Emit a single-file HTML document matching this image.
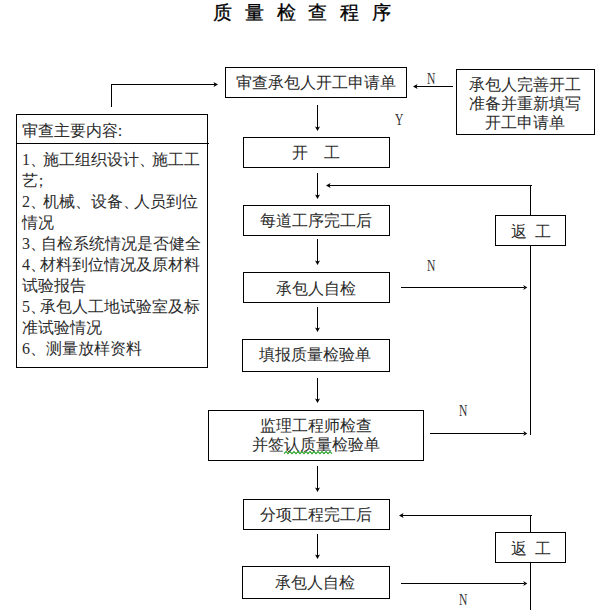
<!DOCTYPE html>
<html><head><meta charset="utf-8">
<style>
html,body{margin:0;padding:0;background:#fff;}
body{width:607px;height:610px;position:relative;overflow:hidden;font-family:"Liberation Sans",sans-serif;color:#000;}
.b{position:absolute;box-sizing:border-box;border:1px solid #000;background:#fff;}
.t{position:absolute;white-space:nowrap;font-size:16px;line-height:18px;color:#2b2b2b;}
.c{text-align:center;}
.n{position:absolute;font-family:"Liberation Serif",serif;font-size:16.5px;line-height:16px;transform:scaleX(0.7);transform-origin:0 0;color:#333;}
.r{position:absolute;left:22px;white-space:nowrap;font-size:16px;line-height:21px;color:#2b2b2b;}
.r i{display:inline-block;font-style:normal;}
.r .d{font-family:"Liberation Serif",serif;width:8px;}
svg{position:absolute;left:0;top:0;}
</style></head><body>
<svg width="607" height="610" viewBox="0 0 607 610">
<g stroke="#000" stroke-width="1" shape-rendering="crispEdges" fill="none">
<!-- C to A -->
<path d="M111.5 107 V84.5 H215"/>
<!-- B to A -->
<path d="M416 86.5 H453"/>
<!-- center verticals -->
<path d="M317.5 105 V128"/>
<path d="M317.5 173 V196"/>
<path d="M317.5 239 V262"/>
<path d="M317.5 307 V329"/>
<path d="M317.5 378 V400"/>
<path d="M317.5 466 V489"/>
<path d="M317.5 534 V556"/>
<!-- right loop 1 -->
<path d="M530.5 435 V186"/><path d="M532 185.5 H329"/>
<path d="M401 287.5 H524"/>
<path d="M430 433.5 H524"/>
<!-- right loop 2 -->
<path d="M530.5 610 V516"/><path d="M532 515.5 H402"/>
<path d="M401 583.5 H524"/>
</g>
<g fill="#000">
<path d="M218 84.5 L213.5 82 L214.5 84.5 L213.5 87 Z"/>
<path d="M413 86.5 L417.5 84 L416.5 86.5 L417.5 89 Z"/>
<path d="M317.5 131 L315 126.5 L317.5 127.5 L320 126.5 Z"/>
<path d="M317.5 199 L315 194.5 L317.5 195.5 L320 194.5 Z"/>
<path d="M317.5 265 L315 260.5 L317.5 261.5 L320 260.5 Z"/>
<path d="M317.5 332 L315 327.5 L317.5 328.5 L320 327.5 Z"/>
<path d="M317.5 403 L315 398.5 L317.5 399.5 L320 398.5 Z"/>
<path d="M317.5 492 L315 487.5 L317.5 488.5 L320 487.5 Z"/>
<path d="M317.5 559 L315 554.5 L317.5 555.5 L320 554.5 Z"/>
<path d="M326 185.5 L330.5 183 L329.5 185.5 L330.5 188 Z"/>
<path d="M399 515.5 L403.5 513 L402.5 515.5 L403.5 518 Z"/>
<path d="M527.3 287.5 L523.3 285 L524.3 287.5 L523.3 290 Z"/>
<path d="M527.3 433.5 L523.3 431 L524.3 433.5 L523.3 436 Z"/>
<path d="M527.3 583.5 L523.3 581 L524.3 583.5 L523.3 586 Z"/>
</g>
</svg>

<!-- title -->
<div class="t" style="left:213px;top:1.5px;font-family:'Liberation Serif',serif;font-size:19px;line-height:22px;letter-spacing:12.8px;-webkit-text-stroke:0.3px #000;color:#000;">质量检查程序</div>

<!-- box A -->
<div class="b" style="left:225px;top:67px;width:182px;height:31px;"></div>
<div class="t" style="left:236px;top:74px;">审查承包人开工申请单</div>

<!-- box B -->
<div class="b" style="left:456px;top:69px;width:139px;height:66px;"></div>
<div class="t c" style="left:455px;top:75px;width:139px;line-height:19px;">承包人完善开工<br>准备并重新填写<br>开工申请单</div>

<!-- box C -->
<div class="b" style="left:16px;top:114px;width:192px;height:254px;"></div>
<div style="position:absolute;left:16px;top:143px;width:193px;height:1px;background:#000"></div>
<div class="t" style="left:22px;top:122px;">审查主要内容<span style="display:inline-block;margin-left:-6px">：</span></div>
<div class="r" style="top:149px;"><i class="d">1</i><i style="width:13px">、</i>施工组织设计<i style="width:13px">、</i>施工工</div>
<div class="r" style="top:170px;">艺<i style="margin-left:-5px">；</i></div>
<div class="r" style="top:191px;"><i class="d">2</i><i style="width:13px">、</i>机械<i style="width:16px">、</i>设备<i style="width:11px">、</i>人员到位</div>
<div class="r" style="top:212px;">情况</div>
<div class="r" style="top:233px;"><i class="d">3</i><i style="width:11px">、</i>自检系统情况是否健全</div>
<div class="r" style="top:254px;"><i class="d">4</i><i style="width:10px">、</i>材料到位情况及原材料</div>
<div class="r" style="top:275px;">试验报告</div>
<div class="r" style="top:296px;"><i class="d">5</i><i style="width:10px">、</i>承包人工地试验室及标</div>
<div class="r" style="top:317px;">准试验情况</div>
<div class="r" style="top:338px;"><i class="d">6</i><i style="width:16px">、</i>测量放样资料</div>

<!-- center boxes -->
<div class="b" style="left:243px;top:137px;width:147px;height:31px;"></div>
<div class="t c" style="left:242px;top:144px;width:147px;">开　工</div>

<div class="b" style="left:243px;top:205px;width:147px;height:31px;"></div>
<div class="t c" style="left:242px;top:212px;width:147px;">每道工序完工后</div>

<div class="b" style="left:243px;top:272px;width:147px;height:31px;"></div>
<div class="t c" style="left:242px;top:280px;width:147px;">承包人自检</div>

<div class="b" style="left:242px;top:339px;width:148px;height:33px;"></div>
<div class="t c" style="left:241px;top:346px;width:148px;">填报质量检验单</div>

<div class="b" style="left:208px;top:410px;width:216px;height:51px;"></div>
<div class="t c" style="left:208px;top:416px;width:216px;line-height:19px;">监理工程师检查<br>并签认质量检验单</div>

<div class="b" style="left:243px;top:499px;width:147px;height:31px;"></div>
<div class="t c" style="left:242px;top:506px;width:147px;">分项工程完工后</div>

<div class="b" style="left:242px;top:566px;width:148px;height:33px;"></div>
<div class="t c" style="left:241px;top:574px;width:148px;">承包人自检</div>

<!-- 返工 boxes -->
<div class="b" style="left:495px;top:215px;width:71px;height:31px;"></div>
<div class="t c" style="left:495px;top:223px;width:71px;">返<i style="display:inline-block;width:8px"></i>工</div>
<div class="b" style="left:495px;top:532px;width:71px;height:31px;"></div>
<div class="t c" style="left:495px;top:540px;width:71px;">返<i style="display:inline-block;width:8px"></i>工</div>

<!-- labels -->
<div class="n" style="left:427px;top:71px;">N</div>
<div class="n" style="left:395px;top:112px;">Y</div>
<div class="n" style="left:427px;top:258px;">N</div>
<div class="n" style="left:459px;top:403px;">N</div>
<div class="n" style="left:459px;top:592px;">N</div>
<svg width="607" height="610" viewBox="0 0 607 610"><polyline points="284,453.6 286,451.6 288,453.6 290,451.6 292,453.6 294,451.6 296,453.6 298,451.6 300,453.6 302,451.6 304,453.6 306,451.6 308,453.6 310,451.6 312,453.6 314,451.6 316,453.6 318,451.6 320,453.6 322,451.6 324,453.6 326,451.6 328,453.6 330,451.6 332,453.6" fill="none" stroke="#22a022" stroke-width="1.1"/>
</svg>
</body></html>
